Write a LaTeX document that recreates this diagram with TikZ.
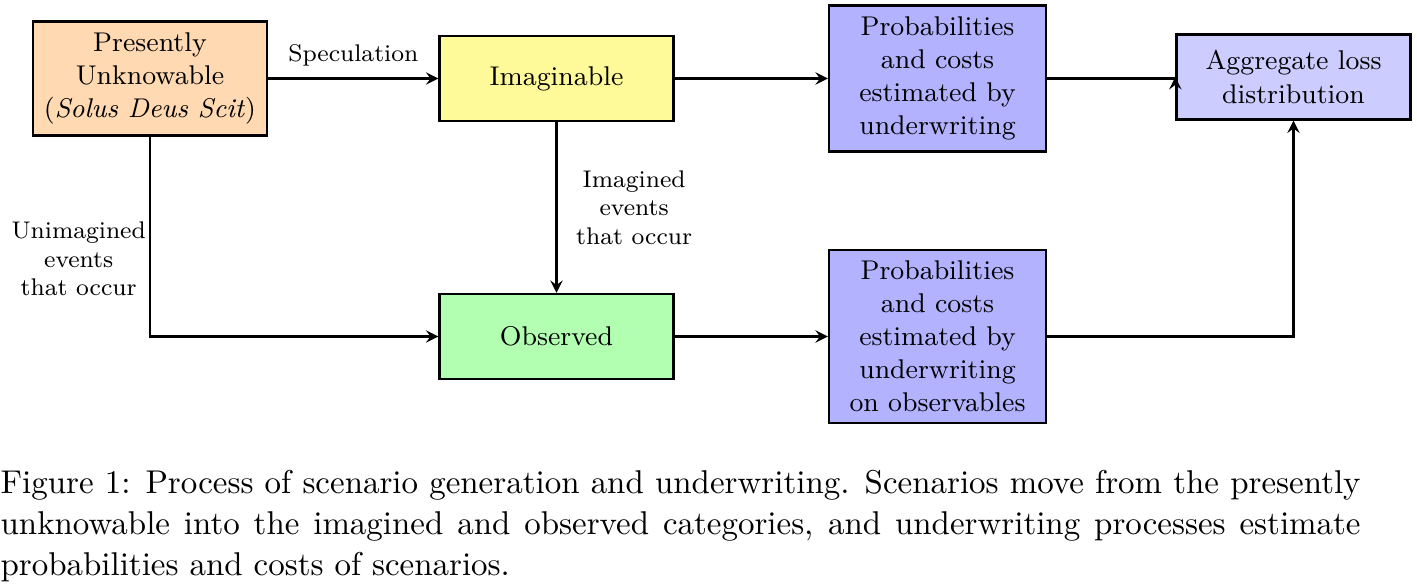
\documentclass[11pt,tikz,border=0pt]{standalone}
\usepackage{xcolor}

\tikzset{
  block/.style={draw, thick, align=center, font=\footnotesize,
    minimum width=77.7pt, minimum height=28.2pt},
  estblock/.style={block, fill=blue!30, minimum width=72.1pt},
  flowlabel/.style={font=\scriptsize, align=center},
}

\begin{document}
\begin{tikzpicture}[x=0.3322pt, y=-0.3322pt]
	\useasboundingbox (0,0) rectangle (1417,583);

	% Top row.
	\node[block, fill=orange!30] (unknow) at (150,78.5) {Presently\\Unknowable\\(\textit{Solus Deus Scit})};
	\node[block, fill=yellow!40]   (imag) at (556.5,78.5) {Imaginable};
	\node[estblock]            (prob_one) at (937.5,78.5) {Probabilities\\and costs\\estimated by\\underwriting};
	\node[block, fill=blue!20]      (agg) at (1293.5,77) {Aggregate loss\\distribution};

	% Bottom row.
	\node[block, fill=green!30]     (obs) at (556.5,336.5) {Observed};
	\node[estblock]            (prob_two) at (937.5,336.5) {Probabilities\\and costs\\estimated by\\underwriting\\on observables};

	% Arrows.
	\draw[-stealth, thick]   (unknow) -- node[flowlabel, above] {Speculation} (imag);
	\draw[-stealth, thick]     (imag) -- node[flowlabel, right, xshift=2.5pt] {Imagined\\events\\that occur} (obs);
	\draw[-stealth, thick]   (unknow) |- node[flowlabel, left, pos=0.306, inner sep=1pt] {Unimagined\\events\\that occur} (obs);
	\draw[-stealth, thick]     (imag) -- (prob_one);
	\draw[-stealth, thick]      (obs) -- (prob_two);
	\draw[-stealth, thick] (prob_one) -| (agg.west);
	\draw[-stealth, thick] (prob_two) -| (agg);

	% Caption.
	\node[anchor=north west, inner sep=0pt, text width=451.8pt, align=justify] (caption) at (0,470)
	  {Figure 1: Process of scenario generation and underwriting. Scenarios move from the presently unknowable into the imagined and observed categories, and underwriting processes estimate probabilities and costs of scenarios.};

\end{tikzpicture}
\end{document}
